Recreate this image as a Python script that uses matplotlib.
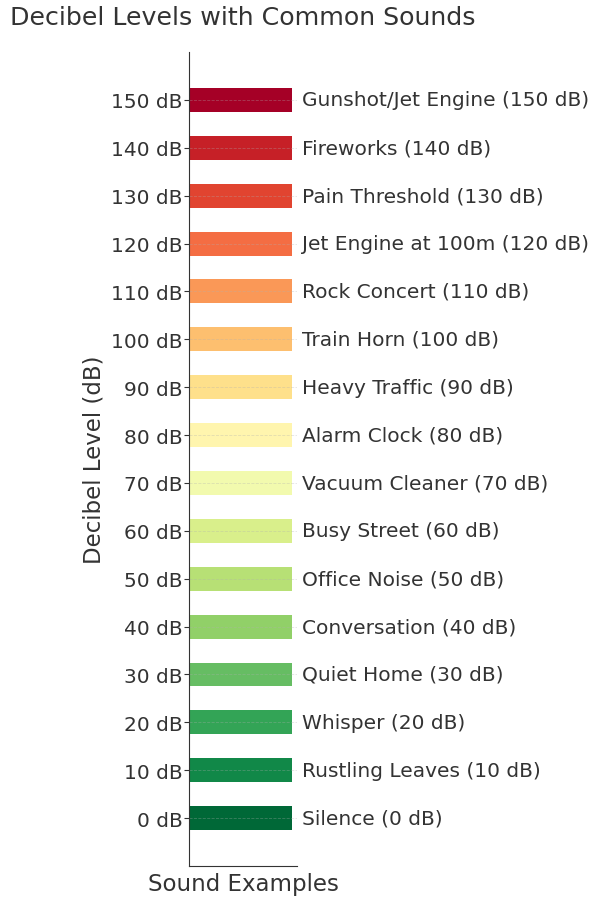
import matplotlib
matplotlib.use("Agg")
import matplotlib.pyplot as plt
import numpy as np

levels = [0, 10, 20, 30, 40, 50, 60, 70, 80, 90, 100, 110, 120, 130, 140, 150]
sounds = ["Silence", "Rustling Leaves", "Whisper", "Quiet Home", "Conversation",
          "Office Noise", "Busy Street", "Vacuum Cleaner", "Alarm Clock",
          "Heavy Traffic", "Train Horn", "Rock Concert", "Jet Engine at 100m",
          "Pain Threshold", "Fireworks", "Gunshot/Jet Engine"]
tick_labels = [f"{v} dB" for v in levels]

txt = "#333333"
fig = plt.figure(figsize=(6, 9.04), dpi=100)
ax = fig.add_axes([189/600, 1-867/904, 108/600, (867-53)/904])

colors = plt.cm.RdYlGn_r(np.linspace(0, 1, len(levels)))
ax.barh(levels, [1]*len(levels), height=5, color=colors)
ax.set_xlim(0, 1.05)
ax.set_ylim(-10, 160)
ax.set_yticks(levels)
ax.set_yticklabels(tick_labels, fontsize=14.5, color=txt)
ax.tick_params(axis='y', length=3.5, pad=1, color=txt)
ax.set_xticks([])
ax.grid(axis='y', linestyle='--', linewidth=0.6, alpha=0.35)
for v, s in zip(levels, sounds):
    ax.text(1.1, v, f"{s} ({v} dB)", va='center', ha='left', fontsize=14.5, color=txt)
ax.spines['top'].set_visible(False)
ax.spines['right'].set_visible(False)
ax.spines['left'].set_color(txt)
ax.spines['bottom'].set_color(txt)
ax.set_ylabel("Decibel Level (dB)", fontsize=16.5, color=txt, labelpad=4)
ax.set_xlabel("Sound Examples", fontsize=16.5, color=txt, labelpad=4)
ax.set_title("Decibel Levels with Common Sounds", fontsize=18.2, color=txt, pad=20)
fig.savefig("out.png", dpi=100)
